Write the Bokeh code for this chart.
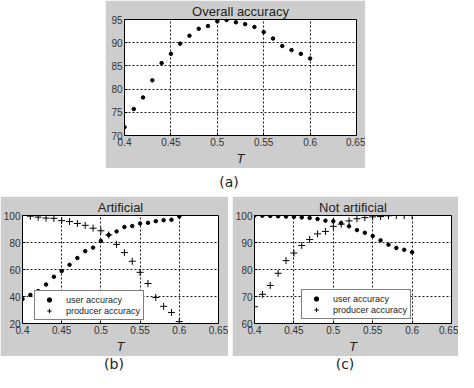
from bokeh.plotting import figure
from bokeh.models import Range1d, FixedTicker, CustomJSTickFormatter, Div, Spacer
from bokeh.layouts import row, column
from bokeh.embed import file_html
from bokeh.resources import INLINE

T = [0.40, 0.41, 0.42, 0.43, 0.44, 0.45, 0.46, 0.47, 0.48, 0.49, 0.50,
     0.51, 0.52, 0.53, 0.54, 0.55, 0.56, 0.57, 0.58, 0.59, 0.60]

overall = [71.8, 75.7, 78.2, 81.9, 85.6, 87.6, 89.8, 91.5, 93.0, 93.6, 94.6,
           94.9, 94.4, 94.0, 93.4, 92.3, 90.9, 89.3, 88.4, 87.6, 86.6]

art_user = [38.1, 41.2, 44.0, 48.9, 54.6, 58.8, 63.5, 68.5, 73.6, 76.2, 81.2,
            85.6, 88.2, 91.5, 92.2, 94.1, 94.6, 95.8, 96.5, 96.9, 99.3]
art_prod = [100.0, 99.5, 98.8, 98.1, 97.9, 96.2, 95.5, 94.1, 92.7, 90.6, 88.7,
            85.6, 78.6, 72.5, 66.1, 57.9, 49.6, 39.3, 32.7, 28.2, 21.4]

nat_user = [100.0, 99.9, 99.8, 99.7, 99.6, 99.5, 99.3, 99.1, 98.7, 98.1, 97.9,
            97.2, 96.0, 94.6, 93.6, 92.4, 90.8, 89.2, 88.0, 87.3, 86.4]
nat_prod = [66.2, 70.8, 74.1, 78.6, 83.3, 86.1, 88.9, 91.1, 93.2, 94.1, 96.0,
            96.8, 98.0, 98.8, 99.2, 99.5, 99.6, 99.9, 100.0, 100.0, 100.0]

x_ticks = [0.4, 0.45, 0.5, 0.55, 0.6, 0.65]
ticks_a = [70, 75, 80, 85, 90, 95]
ticks_b = [20, 40, 60, 80, 100]
ticks_c = [60, 70, 80, 90, 100]

titles = ["Overall accuracy", "Artificial", "Not artificial"]
legend_labels = ["user accuracy", "producer accuracy"]
captions = ["(a)", "(b)", "(c)"]

GRAY = "#cdcdcd"
FONT = "Liberation Sans"


def make_fig(width, height, title, ylo, yhi, yticks, left, right, top, bottom):
    p = figure(width=width, height=height, output_backend="svg",
               toolbar_location=None, title=title,
               x_range=Range1d(0.4, 0.65), y_range=Range1d(ylo, yhi),
               min_border_left=left, min_border_right=right,
               min_border_top=top, min_border_bottom=bottom, margin=0)
    p.title.align = "center"
    p.title.text_font = FONT
    p.title.text_font_size = "13px"
    p.title.text_font_style = "normal"
    p.title.text_color = "#222222"
    p.title.standoff = 2
    p.title.offset = 0
    p.background_fill_color = "white"
    p.border_fill_color = GRAY
    p.outline_line_color = "black"
    p.outline_line_width = 1
    p.xaxis.ticker = FixedTicker(ticks=x_ticks)
    p.yaxis.ticker = FixedTicker(ticks=yticks)
    p.xaxis.formatter = CustomJSTickFormatter(
        code="return String(Math.round(tick*100)/100);")
    for ax in (p.xaxis, p.yaxis):
        ax.axis_line_color = None
        ax.major_tick_in = 3
        ax.major_tick_out = 0
        ax.major_tick_line_color = "black"
        ax.minor_tick_line_color = None
        ax.major_label_text_font = FONT
        ax.major_label_text_font_size = "10px"
        ax.major_label_text_color = "#333333"
        ax.major_label_standoff = 2
    p.xaxis.axis_label = "T"
    p.xaxis.axis_label_text_font = FONT
    p.xaxis.axis_label_text_font_size = "13px"
    p.xaxis.axis_label_text_font_style = "italic"
    p.xaxis.axis_label_text_color = "#222222"
    p.xaxis.axis_label_standoff = 2
    p.grid.grid_line_color = "black"
    p.grid.grid_line_dash = "2 2"
    p.grid.grid_line_alpha = 0.9
    return p


def style_legend(p, loc):
    lg = p.legend[0]
    lg.location = loc
    lg.label_text_font = FONT
    lg.label_text_font_size = "9px"
    lg.label_text_color = "#222222"
    lg.glyph_width = 22
    lg.glyph_height = 11
    lg.label_height = 11
    lg.label_standoff = 6
    lg.spacing = 0
    lg.padding = 3
    lg.margin = 0
    lg.border_line_color = "black"
    lg.border_line_width = 1
    lg.background_fill_color = "white"
    lg.background_fill_alpha = 1.0


DOT = 3.5
PLUS = 7

# (a)
pa = make_fig(260, 168, titles[0], 70, 95, ticks_a, 19, 9, 15, 31)
pa.scatter(T, overall, marker="circle", size=DOT, color="black")

# (b)
pb = make_fig(228, 160, titles[1], 20, 100, ticks_b, 20, 10, 15, 27)
pb.scatter(T, art_user, marker="circle", size=DOT, color="black",
           legend_label=legend_labels[0])
pb.scatter(T, art_prod, marker="cross", size=PLUS, line_width=1, color="black",
           legend_label=legend_labels[1])
style_legend(pb, (12, 3))

# (c)
pc = make_fig(226, 160, titles[2], 60, 100, ticks_c, 20, 7, 15, 27)
pc.scatter(T, nat_user, marker="circle", size=DOT, color="black",
           legend_label=legend_labels[0])
pc.scatter(T, nat_prod, marker="cross", size=PLUS, line_width=1, color="black",
           legend_label=legend_labels[1])
style_legend(pc, (47, 4))


def caption(txt, w, h):
    return Div(text=txt, width=w, height=h, margin=0,
               styles={"text-align": "center", "font-size": "14px",
                       "font-family": "DejaVu Sans", "color": "#222222",
                       "line-height": f"{h}px"})


layout = column(
    row(Spacer(width=105, height=168, margin=0), pa, margin=0),
    caption(captions[0], 458, 28),
    row(pb, Spacer(width=4, height=160, margin=0), pc, margin=0),
    row(caption(captions[1], 228, 16), Spacer(width=4, height=16, margin=0),
        caption(captions[2], 226, 16), margin=0),
    margin=0,
)

open("out.html", "w").write(file_html(layout, INLINE))
